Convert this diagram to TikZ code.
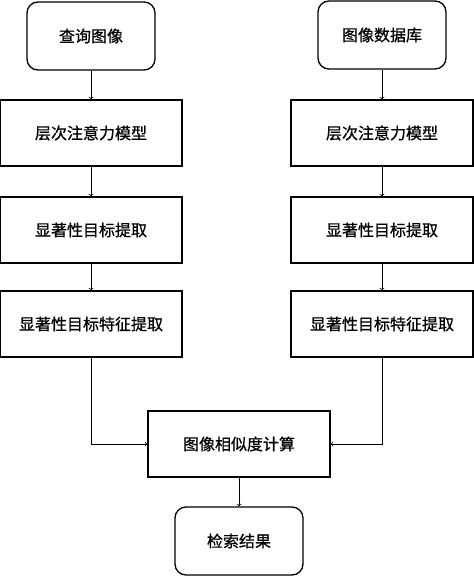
\documentclass[tikz,border=0pt]{standalone}
\usepackage{fontspec}
\newfontfamily\cjk[FakeBold=0.8]{Noto Sans CJK SC}
\usetikzlibrary{arrows,positioning,calc}

\begin{document}
\begin{tikzpicture}[x=1pt, y=-1pt,
		box/.style={draw, line width=1.3pt, minimum width=182pt, minimum height=66pt, inner sep=0pt, font=\cjk\fontsize{16}{19}\selectfont},
		endbox/.style={box, rounded corners=11pt, minimum width=128pt, minimum height=68pt},
		link/.style={->, line width=0.8pt}]
	\useasboundingbox (0,0) rectangle (474,576);
	% left column
	\node[endbox] (query) at (91,36) {查询图像};
	\node[box] (attL) at (91,133) {层次注意力模型};
	\node[box] (objL) at (91,230) {显著性目标提取};
	\node[box] (featL) at (91,324) {显著性目标特征提取};
	% right column
	\node[endbox] (base) at (382,35) {图像数据库};
	\node[box] (attR) at (382,133) {层次注意力模型};
	\node[box] (objR) at (382,230) {显著性目标提取};
	\node[box] (featR) at (382,324) {显著性目标特征提取};
	% merge
	\node[box] (sim) at (239,444) {图像相似度计算};
	\node[endbox] (result) at (239,541) {检索结果};
	%
	\draw[link] (query) -- (attL);
	\draw[link] (attL) -- (objL);
	\draw[link] (objL) -- (featL);
	\draw[link] (base) -- (attR);
	\draw[link] (attR) -- (objR);
	\draw[link] (objR) -- (featR);
	\draw[link] (featL.south) |- (sim.west);
	\draw[link] (featR.south) |- (sim.east);
	\draw[link] (sim) -- (result);
\end{tikzpicture}
\end{document}
